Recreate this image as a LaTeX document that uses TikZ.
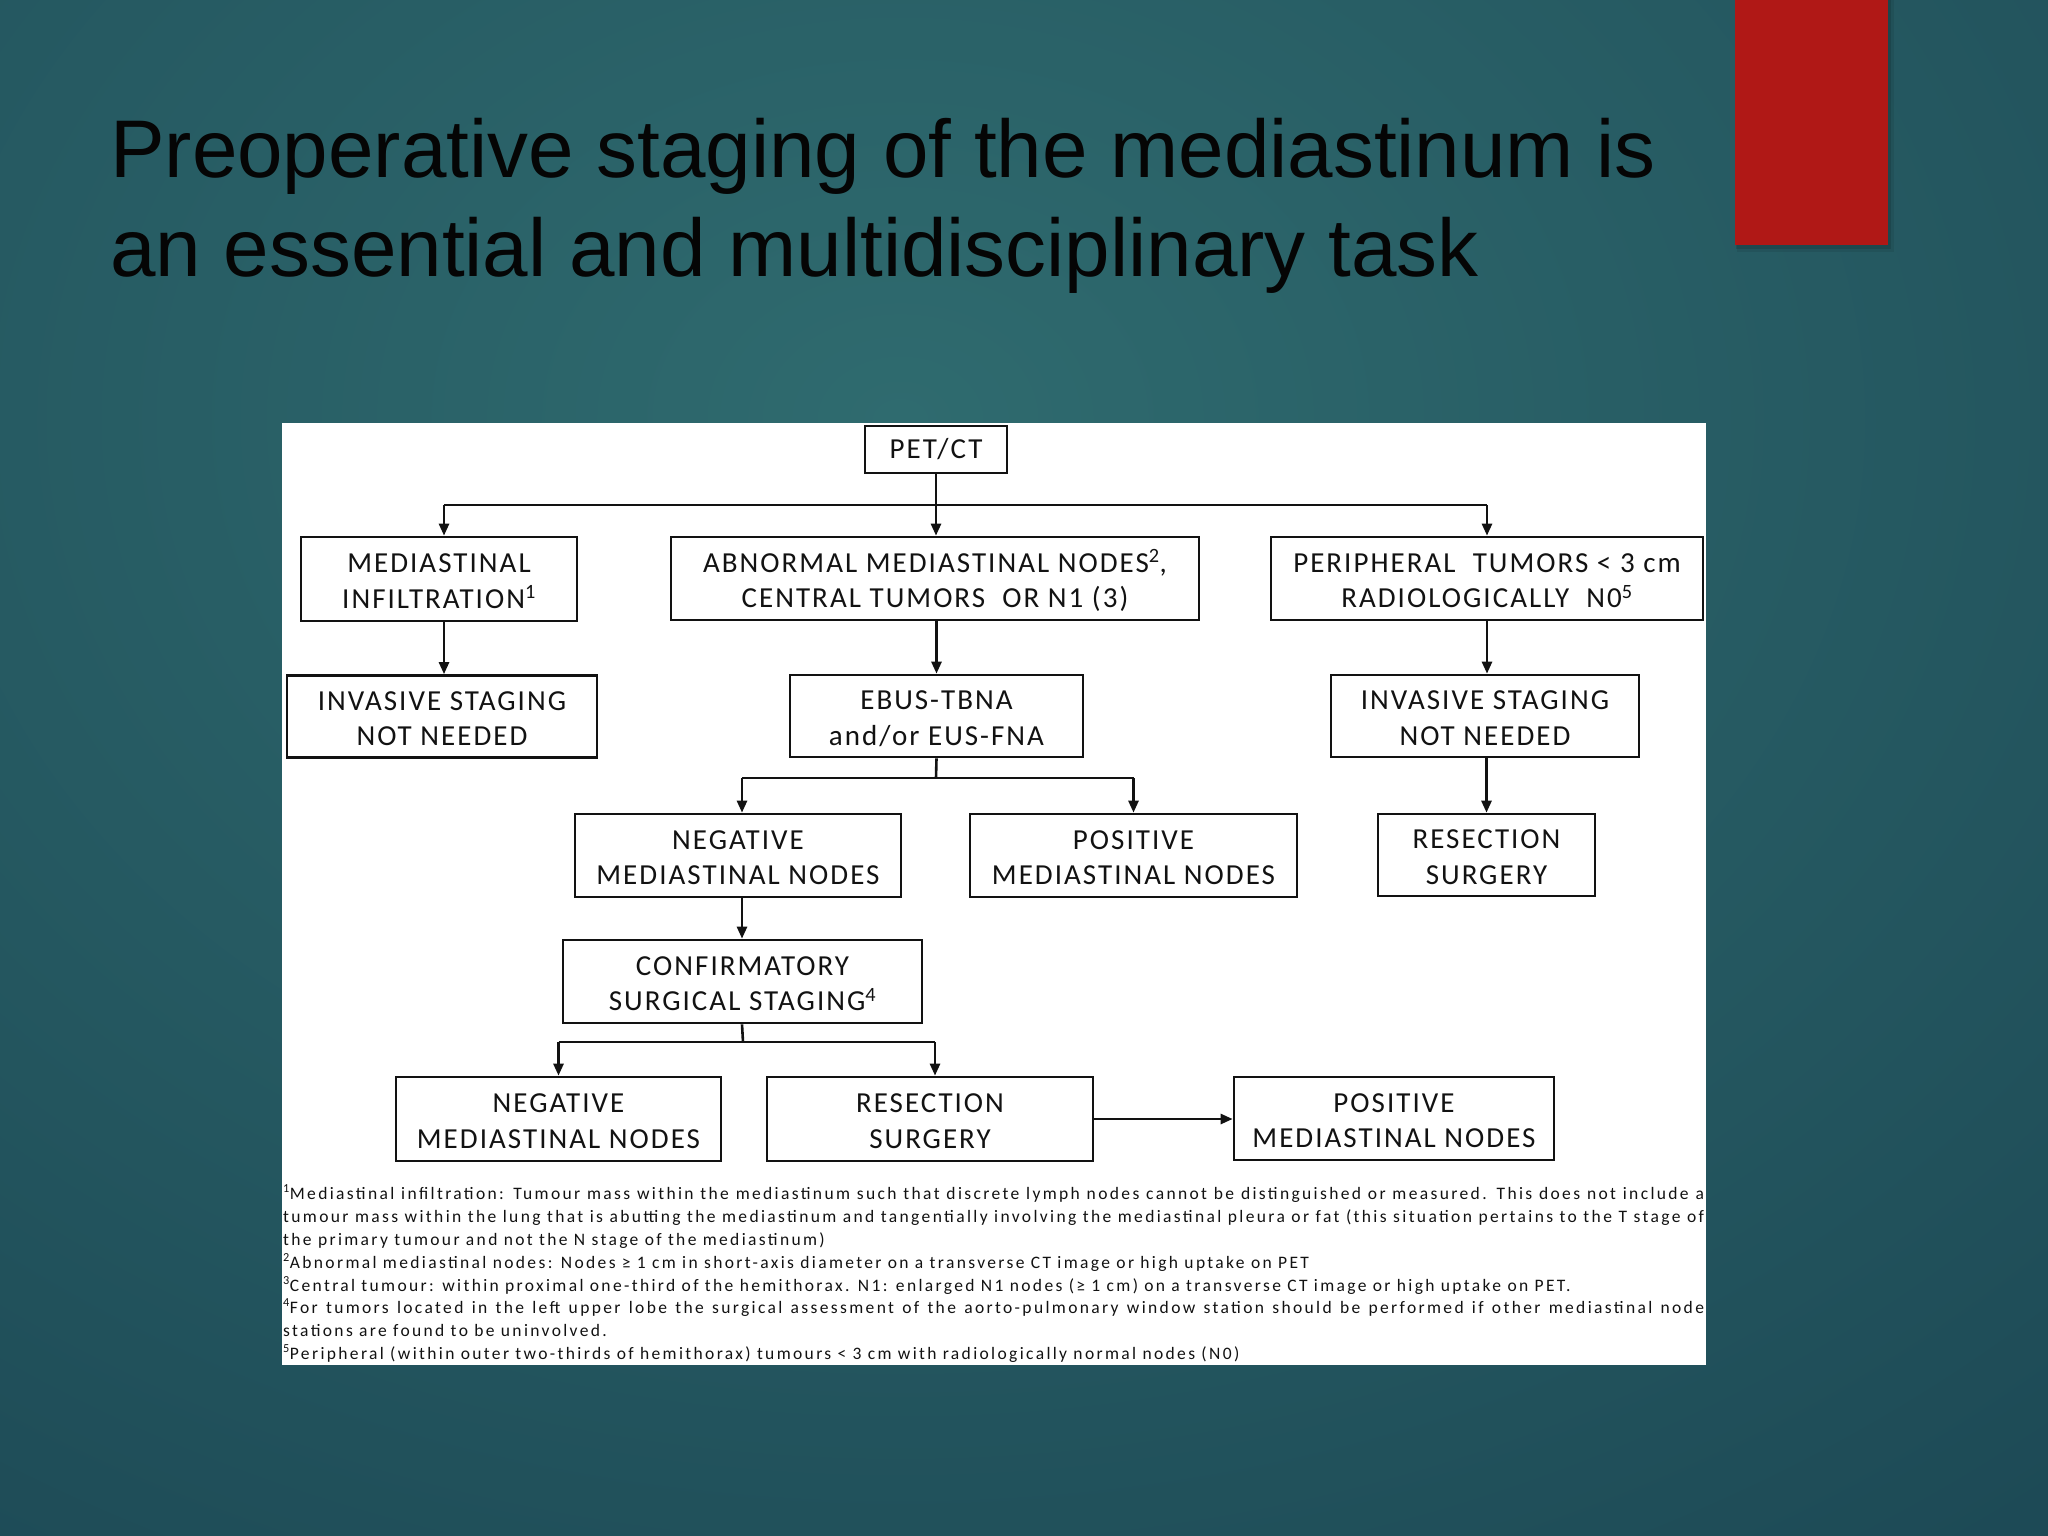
\documentclass[tikz,border=0pt]{standalone}
\usepackage{fontspec}
\setmainfont{Liberation Sans}
\newfontfamily\boxfnt{Carlito}[LetterSpace=7]
\newfontfamily\notefnt{Carlito}[LetterSpace=13.5]
\usetikzlibrary{arrows.meta}
\definecolor{bgin}{HTML}{2F6B6F}
\definecolor{bgout}{HTML}{0F3042}
\definecolor{redbar}{HTML}{B01816}
\definecolor{titlecol}{HTML}{050505}
\definecolor{inkcol}{HTML}{121212}
\tikzset{
  fbox/.style={draw=inkcol, line width=2.7pt, fill=white, inner sep=0pt, align=center,
    font=\boxfnt\fontsize{29}{35.5}\selectfont, text=inkcol,
    text height=58pt, text depth=0pt},
  onebox/.style={fbox, text height=18.7pt, text depth=0pt},
  conn/.style={draw=inkcol, line width=2.6pt},
  arr/.style={conn, -{Triangle[length=12pt,width=10pt]}},
  ttl/.style={anchor=base west, inner sep=0pt, text=titlecol, font=\fontsize{81.8}{98}\selectfont},
  note/.style={anchor=base west, inner sep=0pt, text=inkcol, font=\notefnt\fontsize{17.5}{22}\selectfont}
}
\begin{document}
\begin{tikzpicture}[x=1pt,y=-1pt]
\useasboundingbox (0,0) rectangle (2048,1536);
\begin{scope}
\clip (0,0) rectangle (2048,1536);
\begin{scope}[shift={(900,420)}, xscale=1.3]
\shade[inner color=bgin, outer color=bgout] (0,0) circle (2500);
\end{scope}
\end{scope}
% red bar with soft shadow
\fill[black,opacity=0.08] (1737,0) rectangle (1894,252);
\fill[black,opacity=0.12] (1736,0) rectangle (1891,249);
\fill[redbar] (1735,0) rectangle (1888,245);
% title
\node[ttl] (t1) at (110,178) {Preoperative staging of the mediastinum is};
\node[ttl] (t2) at (110,276) {an essential and multidisciplinary task};
% white panel
\fill[white] (282,423) rectangle (1706,1365);
% boxes
\node[onebox, minimum width=142, minimum height=47] (pet) at (936,449.5) {PET/CT};
\node[fbox, minimum width=276, minimum height=84] (med) at (439,579) {MEDIASTINAL\\INFILTRATION\textsuperscript{1}};
\node[fbox, minimum width=528, minimum height=83] (abn) at (935,578.5) {ABNORMAL MEDIASTINAL NODES\textsuperscript{2},\\CENTRAL TUMORS\ \ OR N1 (3)};
\node[fbox, minimum width=432, minimum height=83] (per) at (1487,578.5) {PERIPHERAL\ \ TUMORS < 3 cm\\RADIOLOGICALLY\ \ N0\textsuperscript{5}};
\node[fbox, minimum width=310, minimum height=82] (inv1) at (442,716.5) {INVASIVE STAGING\\NOT NEEDED};
\node[fbox, minimum width=293, minimum height=82] (ebus) at (936.5,716) {EBUS-TBNA\\and/or EUS-FNA};
\node[fbox, minimum width=308, minimum height=82] (inv2) at (1485,716) {INVASIVE STAGING\\NOT NEEDED};
\node[fbox, minimum width=326, minimum height=83] (neg1) at (738,855.5) {NEGATIVE\\MEDIASTINAL NODES};
\node[fbox, minimum width=327, minimum height=83] (pos1) at (1133.5,855.5) {POSITIVE\\MEDIASTINAL NODES};
\node[fbox, minimum width=217, minimum height=82] (res1) at (1486.5,855) {RESECTION\\SURGERY};
\node[fbox, minimum width=359, minimum height=83] (conf) at (742.5,981.5) {CONFIRMATORY\\SURGICAL STAGING\textsuperscript{4}};
\node[fbox, minimum width=325, minimum height=84] (neg2) at (558.5,1119) {NEGATIVE\\MEDIASTINAL NODES};
\node[fbox, minimum width=326, minimum height=84] (res2) at (930,1119) {RESECTION\\SURGERY};
\node[fbox, minimum width=320, minimum height=83] (pos2) at (1394,1118.5) {POSITIVE\\MEDIASTINAL NODES};
% connectors
\coordinate (bus1) at (936,505);
\coordinate (bus2) at (936,778);
\coordinate (bus3) at (743,1042);
\coordinate (medx) at ([xshift=5pt]med.north);
\coordinate (negx) at ([xshift=4pt]neg1.north);
\coordinate (resx) at ([xshift=5pt]res2.north);
\draw[arr] (pet.south) -- (pet.south |- abn.north);
\draw[conn] (medx |- bus1) -- (per.north |- bus1);
\draw[arr] (medx |- bus1) -- (medx);
\draw[arr] (per.north |- bus1) -- (per.north);
\draw[arr] (medx |- med.south) -- (medx |- inv1.north);
\draw[arr] (abn.south -| ebus.north) -- (ebus.north);
\draw[arr] (per.south) -- (per.south |- inv2.north);
\draw[conn] (ebus.south) -- (bus2);
\draw[conn] (negx |- bus2) -- (pos1.north |- bus2);
\draw[arr] (negx |- bus2) -- (negx);
\draw[arr] (pos1.north |- bus2) -- (pos1.north);
\draw[arr] (inv2.south -| res1.north) -- (res1.north);
\draw[arr] (negx |- neg1.south) -- (negx |- conf.north);
\draw[conn] (negx |- conf.south) -- (bus3);
\draw[conn] (neg2.north |- bus3) -- (resx |- bus3);
\draw[arr] (neg2.north |- bus3) -- (neg2.north);
\draw[arr] (resx |- bus3) -- (resx);
\draw[arr] (res2.east) -- (res2.east -| pos2.west);
% footnotes
\node[note] (f1) at (283,1199) {\makebox[1421pt][s]{\textsuperscript{1}Mediastinal infiltration: Tumour mass within the mediastinum such that discrete lymph nodes cannot be distinguished or measured. This does not include a}};
\node[note] (f2) at (283,1222) {\makebox[1421pt][s]{tumour mass within the lung that is abutting the mediastinum and tangentially involving the mediastinal pleura or fat (this situation pertains to the T stage of}};
\node[note] (f3) at (283,1245) {the primary tumour and not the N stage of the mediastinum)};
\node[note] (f4) at (283,1268) {\textsuperscript{2}Abnormal mediastinal nodes: Nodes ≥ 1 cm in short-axis diameter on a transverse CT image or high uptake on PET};
\node[note] (f5) at (283,1291) {\textsuperscript{3}Central tumour: within proximal one-third of the hemithorax. N1: enlarged N1 nodes (≥ 1 cm) on a transverse CT image or high uptake on PET.};
\node[note] (f6) at (283,1313) {\makebox[1421pt][s]{\textsuperscript{4}For tumors located in the left upper lobe the surgical assessment of the aorto-pulmonary window station should be performed if other mediastinal node}};
\node[note] (f7) at (283,1336) {stations are found to be uninvolved.};
\node[note] (f8) at (283,1359) {\textsuperscript{5}Peripheral (within outer two-thirds of hemithorax) tumours < 3 cm with radiologically normal nodes (N0)};
\end{tikzpicture}
\end{document}
